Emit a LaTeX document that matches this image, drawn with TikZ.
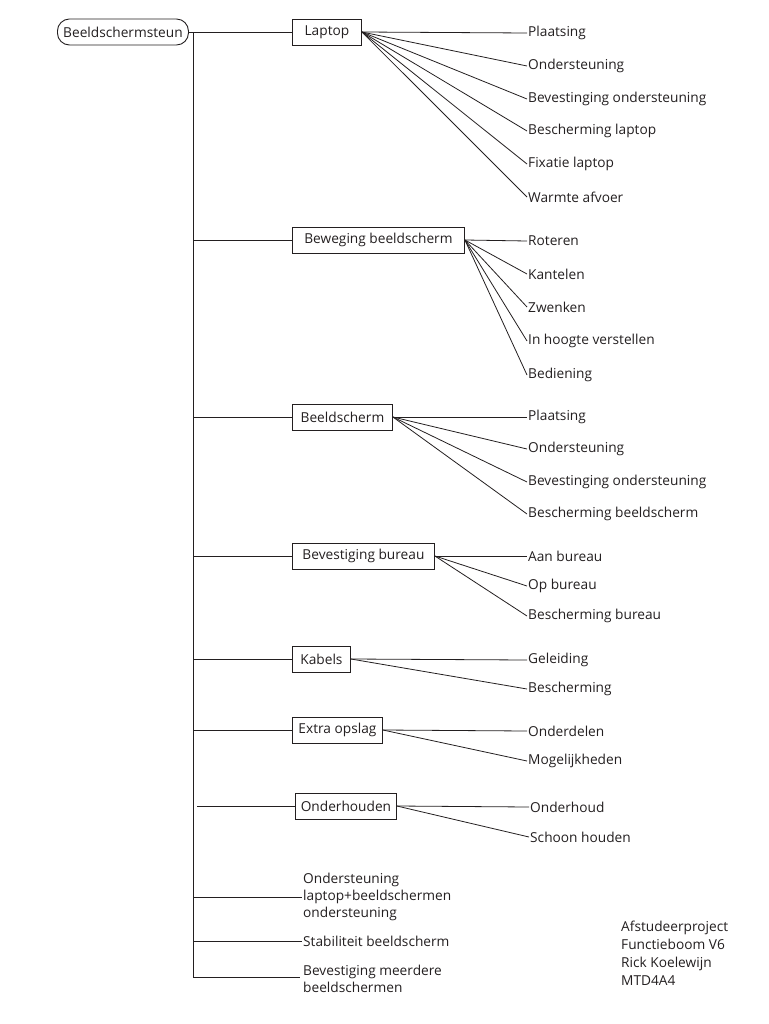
\documentclass[tikz,border=0pt]{standalone}
\usepackage{fontspec}
\setmainfont{Open Sans}
\definecolor{ink}{HTML}{231F20}
\begin{document}
\begin{tikzpicture}[x=1pt,y=-1pt,
  every node/.style={font=\fontsize{13.7}{17}\selectfont, text=ink},
  box/.style={draw=ink, line width=0.9pt, minimum height=26pt, inner sep=0pt, anchor=west},
  leaf/.style={anchor=west, inner xsep=1pt, inner ysep=0pt},
  ln/.style={draw=ink, line width=0.8pt}]
\useasboundingbox (0,0) rectangle (768,1024);
% root
\node[box, rounded corners=12pt, minimum width=131pt] (root) at (57,32) {Beeldschermsteun};
% trunk
\coordinate (t0) at (193,32);
\coordinate (tend) at (193,977);
\draw[ln] (root.east) -- (t0) -- (tend);
% Laptop
\node[box, minimum width=69pt] (lap) at (292,32) {Laptop};
\draw[ln] (t0) -- (lap.west);
\node[leaf] (a1) at (527,33) {Plaatsing};
\node[leaf] (a2) at (527,66) {Ondersteuning};
\node[leaf] (a3) at (527,99) {Bevestinging ondersteuning};
\node[leaf] (a4) at (527,131) {Bescherming laptop};
\node[leaf] (a5) at (527,164) {Fixatie laptop};
\node[leaf] (a6) at (527,197) {Warmte afvoer};
\foreach \i in {1,...,6} \draw[ln] (lap.east) -- (a\i.west);
% Beweging beeldscherm
\node[box, minimum width=172pt] (bew) at (292,240) {Beweging beeldscherm};
\draw[ln] (t0 |- bew.west) -- (bew.west);
\node[leaf] (b1) at (527,241) {Roteren};
\node[leaf] (b2) at (527,274) {Kantelen};
\node[leaf] (b3) at (527,307) {Zwenken};
\node[leaf] (b4) at (527,341) {In hoogte verstellen};
\node[leaf] (b5) at (527,375) {Bediening};
\foreach \i in {1,...,5} \draw[ln] (bew.east) -- (b\i.west);
% Beeldscherm
\node[box, minimum width=100pt] (bs) at (292,417) {Beeldscherm};
\draw[ln] (t0 |- bs.west) -- (bs.west);
\node[leaf] (c1) at (527,417) {Plaatsing};
\node[leaf] (c2) at (527,449) {Ondersteuning};
\node[leaf] (c3) at (527,482) {Bevestinging ondersteuning};
\node[leaf] (c4) at (527,514) {Bescherming beeldscherm};
\foreach \i in {1,...,4} \draw[ln] (bs.east) -- (c\i.west);
% Bevestiging bureau
\node[box, minimum width=142pt] (bb) at (292,556) {Bevestiging bureau};
\draw[ln] (t0 |- bb.west) -- (bb.west);
\node[leaf] (d1) at (527,556) {Aan bureau};
\node[leaf] (d2) at (527,586) {Op bureau};
\node[leaf] (d3) at (527,616) {Bescherming bureau};
\foreach \i in {1,...,3} \draw[ln] (bb.east) -- (d\i.west);
% Kabels
\node[box, minimum width=58pt] (kab) at (292,659) {Kabels};
\draw[ln] (t0 |- kab.west) -- (kab.west);
\node[leaf] (e1) at (527,660) {Geleiding};
\node[leaf] (e2) at (527,689) {Bescherming};
\foreach \i in {1,2} \draw[ln] (kab.east) -- (e\i.west);
% Extra opslag
\node[box, minimum width=90pt] (ext) at (292,730) {Extra opslag};
\draw[ln] (t0 |- ext.west) -- (ext.west);
\node[leaf] (f1) at (527,731) {Onderdelen};
\node[leaf] (f2) at (527,761) {Mogelijkheden};
\foreach \i in {1,2} \draw[ln] (ext.east) -- (f\i.west);
% Onderhouden
\node[box, minimum width=101pt] (ond) at (295,806) {Onderhouden};
\coordinate (ostart) at (197,806);
\draw[ln] (ostart) -- (ond.west);
\node[leaf] (g1) at (529,807) {Onderhoud};
\node[leaf] (g2) at (529,837) {Schoon houden};
\foreach \i in {1,2} \draw[ln] (ond.east) -- (g\i.west);
% bottom leaves
\node[leaf, align=left] (h1) at (302,897) {Ondersteuning\\laptop+beeldschermen\\ondersteuning};
\draw[ln] (t0 |- h1.west) -- (h1.west);
\node[leaf] (h2) at (302,941) {Stabiliteit beeldscherm};
\draw[ln] (t0 |- h2.west) -- (h2.west);
\node[leaf, align=left, anchor=north west] (h3) at (302,965) {Bevestiging meerdere\\beeldschermen};
\coordinate (h3w) at (300,977);
\draw[ln] (tend) -- (h3w);
% credits
\node[anchor=north west, align=left, inner sep=0pt, font=\fontsize{13.7}{18}\selectfont] (cred) at (621,921) {Afstudeerproject\\Functieboom V6\\Rick Koelewijn\\MTD4A4};
\end{tikzpicture}
\end{document}
